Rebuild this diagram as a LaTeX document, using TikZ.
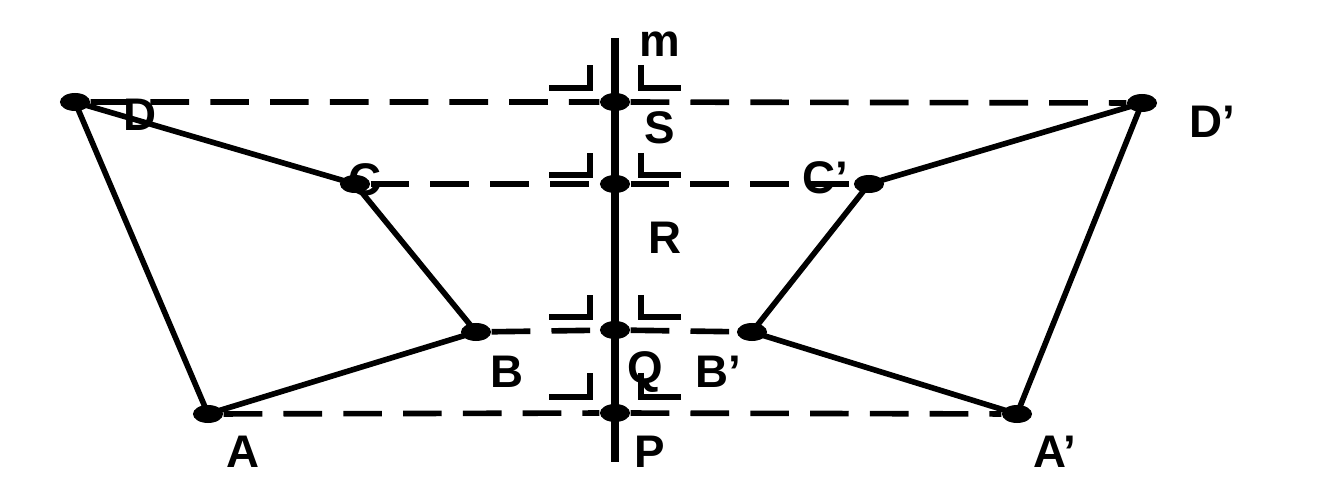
\documentclass[tikz,border=0pt]{standalone}
\usepackage{fontspec}
\setmainfont{Liberation Sans}
\usetikzlibrary{shapes.geometric}
\begin{document}
\begin{tikzpicture}[x=0.01cm,y=-0.01cm,
  dot/.style={ellipse,fill=black,minimum width=0.30cm,minimum height=0.18cm,inner sep=0},
  lbl/.style={font=\fontsize{13}{15}\selectfont\bfseries},
  seg/.style={line width=1.6pt},
  dsh/.style={line width=1.6pt,dash pattern=on 11pt off 6pt},
  rmark/.style={line width=1.5pt}]
\fill[white] (0,0) rectangle (1335,491);
\coordinate (mt) at (615,38);
\coordinate (mb) at (615,462);
\draw[line width=2.4pt] (mt) -- (mb);
\node[dot] (D) at (75,102) {};
\node[dot] (C) at (355,184) {};
\node[dot] (B) at (476,332) {};
\node[dot] (A) at (208,414) {};
\node[dot] (S) at (615,102) {};
\node[dot] (R) at (615,184) {};
\node[dot] (Q) at (615,330) {};
\node[dot] (P) at (615,413) {};
\node[dot] (Dp) at (1142,103) {};
\node[dot] (Cp) at (869,184) {};
\node[dot] (Bp) at (752,332) {};
\node[dot] (Ap) at (1017,414) {};
\draw[seg] (D.center) -- (C.center) -- (B.center) -- (A.center) -- cycle;
\draw[seg] (Dp.center) -- (Cp.center) -- (Bp.center) -- (Ap.center) -- cycle;
\draw[dsh] (D) -- (S) -- (Dp);
\draw[dsh] (C) -- (R) -- (Cp);
\draw[dsh] (B) -- (Q) -- (Bp);
\draw[dsh] (A) -- (P) -- (Ap);
\foreach \a/\b in {65/88,153/175,295/317,373/397}{
  \draw[rmark] (549,\b) -- (590,\b) -- (590,\a);
  \draw[rmark] (641,\a) -- (641,\b) -- (681,\b);
}
\node[lbl] (lm) at (660,44) {m};
\node[lbl] (lD) at (140,115) {D};
\node[lbl] (lS) at (660,128) {S};
\node[lbl] (lDp) at (1212,122) {D’};
\node[lbl] (lC) at (365,180) {C};
\node[lbl] (lR) at (665,238) {R};
\node[lbl] (lCp) at (825,178) {C’};
\node[lbl] (lB) at (507,372) {B};
\node[lbl] (lQ) at (645,372) {Q};
\node[lbl] (lBp) at (718,372) {B’};
\node[lbl] (lA) at (243,452) {A};
\node[lbl] (lP) at (650,452) {P};
\node[lbl] (lAp) at (1055,452) {A’};
\end{tikzpicture}
\end{document}
